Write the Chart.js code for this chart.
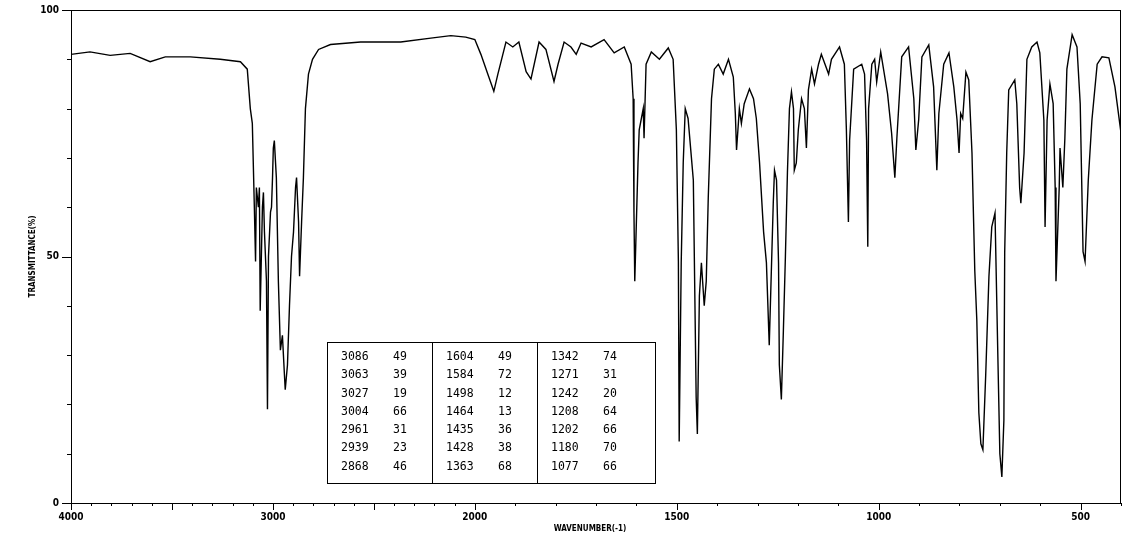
<!DOCTYPE html>
<html><head><meta charset="utf-8">
<script src="https://cdn.jsdelivr.net/npm/chart.js@4/dist/chart.umd.min.js"></script>
<style>html,body{margin:0;padding:0;background:#fff}#w{width:1123px;height:533px}</style>
</head><body><div id="w"><canvas id="c"></canvas></div>
<script>
const wavenumbers=[4000,3906,3806,3707,3608,3533,3409,3261,3161,3127,3112,3102,3092,3086,3082,3072,3067,3063,3052,3047,3042,3032,3027,3022,3012,3007,3002,2998,2993,2983,2973,2963,2953,2943,2939,2928,2918,2908,2898,2888,2883,2873,2868,2858,2849,2839,2824,2804,2774,2715,2566,2367,2218,2119,2045,2000,
1985,1968,1953,1943,1923,1906,1891,1873,1861,1841,1824,1804,1794,1779,1762,1749,1737,1712,1680,1655,1630,1613,1608,1606,1604,1596,1593,1583,1581,1576,1563,1543,1521,1509,1501,1496,1494,1489,1484,1479,1472,1459,1452,1449,1444,1439,1432,1427,1422,1414,1407,1397,1385,1372,1360,1355,1352,1345,1340,1333,1320,1310,1303,1295,1285,1278,1271,1261,1258,1253,1248,1246,1241,1236,1231,1226,1221,1216,1211,1209,1204,1199,1191,1184,1179,1174,1166,1159,1149,1142,1124,1117,1097,1085,1080,1075,1072,1062,1042,1035,1030,1027,1025,1017,1010,1005,995,978,968,960,955,943,926,913,908,901,893,876,864,856,851,839,826,814,806,801,797,792,784,777,769,762,757,752,747,742,735,727,720,712,705,700,695,690,688,683,678,663,658,651,648,640,633,621,608,601,591,588,583,576,568,563,561,553,551,544,539,534,521,509,501,494,489,481,472,459,447,430,415,402,400];
const transmittance=[91,91.5,90.8,91.2,89.5,90.5,90.5,90,89.5,88,80,77,60,49,64,60,64,39,60,63,55,45,19,50,59,60,66,72,73.5,66,45,31,34,26,23,28,40,50,55,64,66,57,46,57,66,80,87,90,92,93,93.5,93.5,94.3,94.8,94.5,94,
91,87,83.5,87,93.5,92.5,93.5,87.5,86,93.5,92,85.5,89,93.5,92.5,91,93.3,92.5,94,91.3,92.5,89,82,59,45,69,75.7,80,74,89,91.5,90,92.3,90,75.7,49,12.5,48.7,69,80,78,65.5,21.5,14,42,48.7,40,45,62,82,88,89,87,90,86.4,79,71.6,80,77,81,84,82,78,69,55,48.7,32,61,67.5,65.5,48.7,28,21,35,50,67,80,83.4,80,67.5,69,75.7,82,80,72,83.8,88,85,89,91,87,90,92.5,89,75.7,57,73.6,88,89,87,73.6,52,80,89,90,85.4,91.5,83,75,66,74,90.5,92.5,82,71.6,77.7,90.5,92.9,84.4,67.5,79,89,91.3,84.4,77.7,71,79,78,87.4,85.8,71,47,37,18.3,12,10.8,26,46,56,58.8,30,10,5.3,16.8,50.7,71,83.8,85.8,81,64,60.8,71,90,92.5,93.5,91.3,77.7,56,77.7,85,81,64,45,64,72,64,74,88,95,92.5,81,51,49,65.5,77.7,89,90.5,90.3,84.4,76.3,75];
const xTickLabels=[4000,3000,2000,1500,1000,500];
const yTickLabels=[0,50,100];
const peakTable=[
 [[3086,49],[3063,39],[3027,19],[3004,66],[2961,31],[2939,23],[2868,46]],
 [[1604,49],[1584,72],[1498,12],[1464,13],[1435,36],[1428,38],[1363,68]],
 [[1342,74],[1271,31],[1242,20],[1208,64],[1202,66],[1180,70],[1077,66]]];
const yTitle='TRANSMITTANCE(%)', xTitle='WAVENUMBER(-1)';

const toU=w=>w>=2000?(4000-w)/2:1000+(2000-w);
const pts=wavenumbers.map((w,i)=>({x:toU(w),y:transmittance[i]}));

const deco={id:'deco',afterDraw(ch){
 const c=ch.ctx,a=ch.chartArea,xs=ch.scales.x,ys=ch.scales.y;
 c.save();c.strokeStyle='#000';c.fillStyle='#000';c.lineWidth=1;
 c.strokeRect(a.left+0.5,a.top+0.5,a.right-a.left-1,a.bottom-a.top);
 for(let v=0;v<=100;v+=10){const y=Math.round(ys.getPixelForValue(v))+0.5;
  const L=(v%50===0)?9:4;c.beginPath();c.moveTo(a.left-L,y);c.lineTo(a.left,y);c.stroke();}
 for(let w=4000;w>=400;w-=100){const x=Math.round(xs.getPixelForValue(toU(w)))+0.5;
  const L=(w%500===0)?7:3;c.beginPath();c.moveTo(x,a.bottom);c.lineTo(x,a.bottom+L);c.stroke();}
 c.font='bold 10px "DejaVu Sans Condensed", "DejaVu Sans"';
 c.textAlign='right';c.textBaseline='middle';
 yTickLabels.forEach(v=>c.fillText(String(v),a.left-12,ys.getPixelForValue(v)));
 c.textAlign='center';c.textBaseline='top';
 xTickLabels.forEach(w=>c.fillText(String(w),xs.getPixelForValue(toU(w)),a.bottom+9));
 c.font='bold 8px "DejaVu Sans Condensed", "DejaVu Sans"';
 c.fillText(xTitle,590,525);
 c.save();c.translate(33,(a.top+a.bottom)/2);c.rotate(-Math.PI/2);c.textBaseline='middle';c.fillText(yTitle,0,0);c.restore();
 const tx=327,ty=342,tw=328,th=141,cw=[105,105,118];
 c.strokeRect(tx+0.5,ty+0.5,tw,th);
 let cx=tx;c.font='11.5px "DejaVu Sans Mono"';c.textBaseline='middle';
 peakTable.forEach((col,ci)=>{
  if(ci>0){c.beginPath();c.moveTo(Math.round(cx)+0.5,ty);c.lineTo(Math.round(cx)+0.5,ty+th);c.stroke();}
  col.forEach((r,ri)=>{const y=ty+15+ri*18.3;c.textAlign='left';c.fillText(String(r[0]),cx+14,y);c.fillText(String(r[1]),cx+66,y);});
  cx+=cw[ci];});
 c.restore();}};

new Chart(document.getElementById('c'),{type:'line',
 data:{datasets:[{data:pts,borderColor:'#000',borderWidth:1.4,pointRadius:0,tension:0,fill:false}]},
 options:{responsive:true,maintainAspectRatio:false,animation:false,
  layout:{padding:{left:71,top:10,right:2,bottom:30}},
  plugins:{legend:{display:false},tooltip:{enabled:false}},
  scales:{x:{type:'linear',min:0,max:2600,display:false},y:{min:0,max:100,display:false}}},
 plugins:[deco]});
</script></body></html>
